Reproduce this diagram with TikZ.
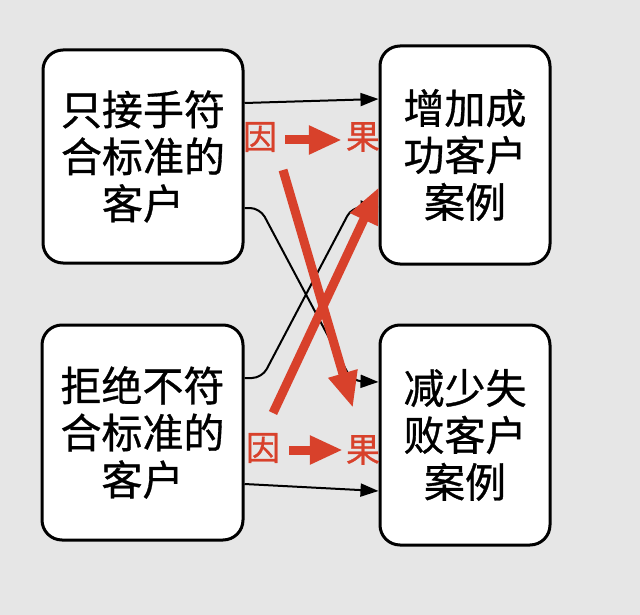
\documentclass[tikz,border=0pt]{standalone}
\usepackage{fontspec}
\newfontfamily\cjk{Noto Sans CJK SC}[FakeBold=0.8]
\usetikzlibrary{arrows.meta}
\definecolor{bg}{HTML}{E6E6E6}
\definecolor{cause}{HTML}{D8412B}
\begin{document}
\begin{tikzpicture}[x=1pt,y=-1pt,
  box/.style={draw=black, line width=3pt, fill=white, rounded corners=20pt, inner sep=0pt, align=center, font=\cjk\fontsize{41}{47}\selectfont},
  link/.style={draw=black, line width=2pt, rounded corners=10pt, -{Triangle[length=18pt,width=13pt]}},
  redarrow/.style={draw=cause, line width=9pt, -{Triangle[length=36pt,width=28pt]}},
  smallred/.style={draw=cause, line width=9pt, -{Triangle[length=33pt,width=27pt]}},
  redtxt/.style={text=cause, font=\cjk\fontsize{34}{34}\selectfont, inner sep=0pt}]
\fill[bg] (0,0) rectangle (640,615);
\useasboundingbox (0,0) rectangle (640,615);
% boxes
\node[box, minimum width=200pt, minimum height=213pt] (a) at (143,156.5) {只接手符\\合标准的\\客户};
\node[box, minimum width=201pt, minimum height=215pt] (b) at (142.5,432.5) {拒绝不符\\合标准的\\客户};
\node[box, minimum width=170pt, minimum height=218pt] (c) at (465,155) {增加成\\功客户\\案例};
\node[box, minimum width=170pt, minimum height=220pt] (d) at (465,435) {减少失\\败客户\\案例};
% black connectors
\draw[link] (a.east |- 0,103) -- (c.west |- 0,99);
\draw[link] (a.east |- 0,208) -- (260,208) -- (352,381) -- (d.west |- 0,382);
\draw[link] (b.east |- 0,378) -- (262,378) -- (352,207) -- (c.west |- 0,207);
\draw[link] (b.east |- 0,484) -- (d.west |- 0,491);
% red labels
\node[redtxt] (y1) at (260,137) {因};
\node[redtxt] (g1) at (363,137) {果};
\node[redtxt] (y2) at (263,448) {因};
\node[redtxt] (g2) at (363,450) {果};
\draw[smallred, shorten <=8pt, shorten >=4pt] (y1.east |- 0,140) -- (g1.west |- 0,140);
\draw[smallred, shorten <=9pt, shorten >=3pt] (y2.east |- 0,450) -- (g2.west |- 0,450);
% long red arrows
\coordinate (r1s) at (283,170);
\coordinate (r1e) at (353,408);
\coordinate (r2s) at (273,413);
\coordinate (r2e) at (379,187);
\draw[redarrow] (r1s) -- (r1e);
\draw[redarrow] (r2s) -- (r2e);
\end{tikzpicture}
\end{document}
